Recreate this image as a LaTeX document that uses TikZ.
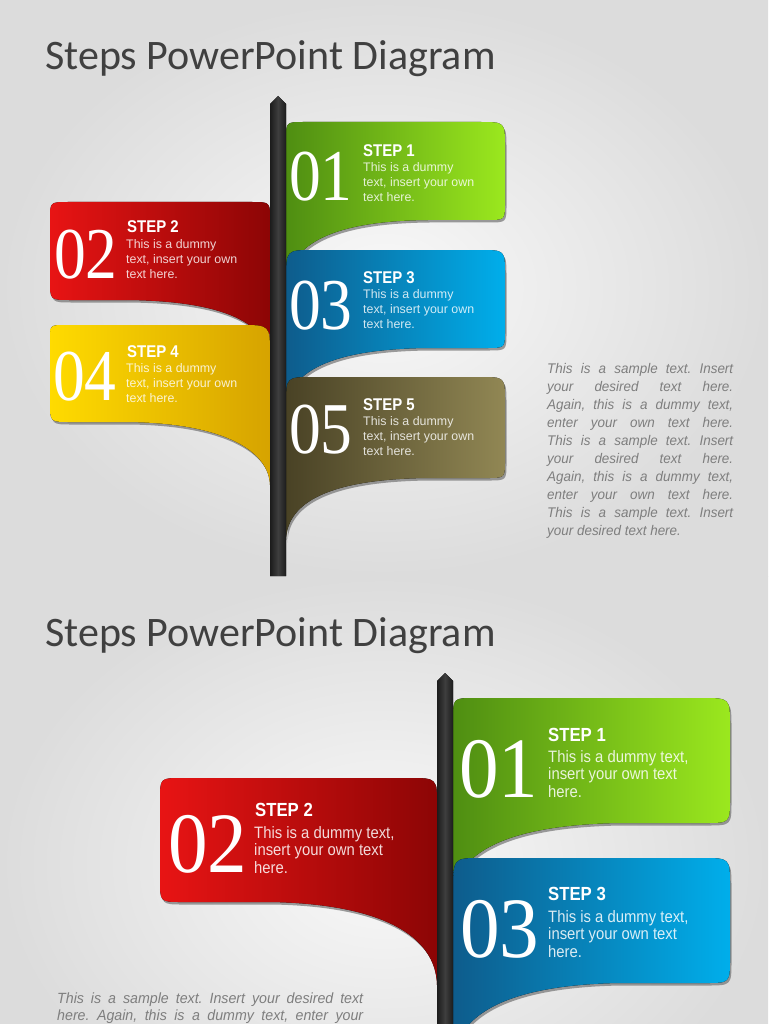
\documentclass[tikz,border=0pt]{standalone}
\usepackage{fontspec}
\setmainfont{Liberation Sans}
\newfontfamily\titlefont{Carlito}
\newfontfamily\numAfont[FakeStretch=0.87]{Liberation Serif}
\newfontfamily\numBfont[FakeStretch=0.92]{Liberation Serif}
\newfontfamily\stepfont[FakeStretch=0.88]{Liberation Sans}
\newfontfamily\bodyAfont{Liberation Sans}
\newfontfamily\bodyBfont[FakeStretch=0.9]{Liberation Sans}
\newfontfamily\samplefont[FakeStretch=0.96]{Liberation Sans}
\frenchspacing
\definecolor{bgIn}{HTML}{F9F9F9}
\definecolor{bgOut}{HTML}{DCDCDC}
\definecolor{gL}{HTML}{4F8E12}
\definecolor{gR}{HTML}{9BE81E}
\definecolor{bL}{HTML}{0E5C8C}
\definecolor{bR}{HTML}{00AEEB}
\definecolor{oL}{HTML}{494225}
\definecolor{oR}{HTML}{918754}
\definecolor{rL}{HTML}{E81414}
\definecolor{rR}{HTML}{8C0505}
\definecolor{yL}{HTML}{FFDB00}
\definecolor{yR}{HTML}{D6A300}
\definecolor{poleD}{HTML}{1C1C1C}
\definecolor{poleM}{HTML}{3E3E3E}
\definecolor{titlegray}{HTML}{404040}
\definecolor{samplegray}{HTML}{7E7E7E}
\tikzset{
  flagshadow/.style={fill=black!55, fill opacity=0.7, shift={(1.5,2.5)}},
  polesty/.style={left color=poleD, right color=poleD, middle color=poleM},
  greenflag/.style={left color=gL, right color=gR},
  blueflag/.style={left color=bL, right color=bR},
  oliveflag/.style={left color=oL, right color=oR},
  redflag/.style={left color=rL, right color=rR},
  yellowflag/.style={left color=yL, right color=yR},
  titlesty/.style={anchor=base west, inner sep=0, text=titlegray, font=\titlefont\fontsize{42}{42}\selectfont},
  numA/.style={anchor=base west, inner sep=0, text=white, font=\numAfont\fontsize{73}{73}\selectfont},
  numB/.style={anchor=base west, inner sep=0, text=white, font=\numBfont\fontsize{86}{86}\selectfont},
  stepA/.style={anchor=base west, inner sep=0, text=white, font=\stepfont\bfseries\fontsize{17}{17}\selectfont},
  stepB/.style={anchor=base west, inner sep=0, text=white, font=\stepfont\bfseries\fontsize{19}{19}\selectfont},
  bodyA/.style={anchor=base west, inner sep=0, text=white, text opacity=0.82, font=\bodyAfont\fontsize{12.4}{15}\selectfont},
  bodyB/.style={anchor=base west, inner sep=0, text=white, text opacity=0.85, font=\bodyBfont\fontsize{16.5}{17.5}\selectfont},
  sampleA/.style={anchor=base west, inner sep=0, text=samplegray, font=\samplefont\itshape\fontsize{14}{18}\selectfont},
  sampleB/.style={anchor=base west, inner sep=0, text=samplegray, font=\samplefont\itshape\fontsize{14.8}{17}\selectfont},
  % slide 1 flag outlines
  pGreenA/.style={insert path={(286,290) -- (286,140) .. controls (286,122) .. (304,122) -- (480,122) .. controls (505,122) .. (505,147) -- (505,202) .. controls (505,220) .. (487,220) -- (428,220) .. controls (330,221) and (287,245) .. (286,290) -- cycle}},
  pBlueA/.style={insert path={(286,412) -- (286,280) .. controls (286,250) .. (314,250) -- (480,250) .. controls (505,250) .. (505,275) -- (505,330) .. controls (505,348) .. (487,348) -- (428,348) .. controls (330,349) and (287,372) .. (286,412) -- cycle}},
  pOliveA/.style={insert path={(286,540) -- (286,405) .. controls (286,377) .. (314,377) -- (480,377) .. controls (505,377) .. (505,402) -- (505,460) .. controls (505,478) .. (487,478) -- (428,478) .. controls (330,479) and (287,502) .. (286,540) -- cycle}},
  pRedA/.style={insert path={(270,362) -- (270,220) .. controls (270,202) .. (252,202) -- (68,202) .. controls (50,202) .. (50,220) -- (50,280) .. controls (50,300) .. (70,300) -- (127,300) .. controls (226,301) and (269,324) .. (270,362) -- cycle}},
  pYellowA/.style={insert path={(270,485) -- (270,355) .. controls (270,325) .. (240,325) -- (65,325) .. controls (50,325) .. (50,340) -- (50,402) .. controls (50,422) .. (70,422) -- (127,422) .. controls (226,423) and (269,452) .. (270,485) -- cycle}},
  % slide 2 flag outlines
  pGreenB/.style={insert path={(453,900) -- (453,720) .. controls (453,698) .. (475,698) -- (702,698) .. controls (730,698) .. (730,726) -- (730,798) .. controls (730,823) .. (705,823) -- (619,823) .. controls (508,825) and (454,852) .. (453,900) -- cycle}},
  pBlueB/.style={insert path={(453,1065) -- (453,893) .. controls (453,858) .. (481,858) -- (702,858) .. controls (730,858) .. (730,886) -- (730,958) .. controls (730,983) .. (705,983) -- (619,983) .. controls (508,985) and (454,1014) .. (453,1065) -- cycle}},
  pRedB/.style={insert path={(437,985) -- (437,806) .. controls (437,778) .. (409,778) -- (182,778) .. controls (160,778) .. (160,800) -- (160,880) .. controls (160,902) .. (182,902) -- (271,902) .. controls (382,904) and (436,936) .. (437,985) -- cycle}},
}
\begin{document}
\begin{tikzpicture}[x=1pt,y=-1pt]
\useasboundingbox (0,0) rectangle (768,1024);
\clip (0,0) rectangle (768,1024);
% backgrounds
\shade[inner color=bgIn, outer color=bgOut] (0,0) rectangle (768,576);
\shade[inner color=bgIn, outer color=bgOut] (0,576) rectangle (768,1152);

% ---------------- slide 1 ----------------
\node[titlesty] (title1) at (45,70) {Steps PowerPoint Diagram};

\fill[flagshadow, pGreenA];
\fill[greenflag, pGreenA];
\fill[flagshadow, pBlueA];
\fill[blueflag, pBlueA];
\fill[flagshadow, pOliveA];
\fill[oliveflag, pOliveA];
\fill[flagshadow, pRedA];
\fill[redflag, pRedA];
\fill[flagshadow, pYellowA];
\fill[yellowflag, pYellowA];

\fill[polesty] (270,576) -- (270,104) -- (278,96) -- (286,104) -- (286,576) -- cycle;

\node[numA] (n01a) at (289,201) {01};
\node[stepA] (s1a) at (363,157) {STEP 1};
\node[bodyA] (t1a) at (363,172) {\parbox[t]{140pt}{This is a dummy\\text, insert your own\\text here.}};

\node[numA] (n02a) at (54,278) {02};
\node[stepA] (s2a) at (127,233) {STEP 2};
\node[bodyA] (t2a) at (126,248) {\parbox[t]{140pt}{This is a dummy\\text, insert your own\\text here.}};

\node[numA] (n03a) at (289,329) {03};
\node[stepA] (s3a) at (363,283) {STEP 3};
\node[bodyA] (t3a) at (363,298) {\parbox[t]{140pt}{This is a dummy\\text, insert your own\\text here.}};

\node[numA] (n04a) at (53,400) {04};
\node[stepA] (s4a) at (127,357) {STEP 4};
\node[bodyA] (t4a) at (126,372) {\parbox[t]{140pt}{This is a dummy\\text, insert your own\\text here.}};

\node[numA] (n05a) at (289,453) {05};
\node[stepA] (s5a) at (363,410) {STEP 5};
\node[bodyA] (t5a) at (363,425) {\parbox[t]{140pt}{This is a dummy\\text, insert your own\\text here.}};

\node[sampleA] (sample1) at (547,373) {\parbox[t]{186pt}{%
\makebox[186pt][s]{This is a sample text. Insert}\\
\makebox[186pt][s]{your desired text here.}\\
\makebox[186pt][s]{Again, this is a dummy text,}\\
\makebox[186pt][s]{enter your own text here.}\\
\makebox[186pt][s]{This is a sample text. Insert}\\
\makebox[186pt][s]{your desired text here.}\\
\makebox[186pt][s]{Again, this is a dummy text,}\\
\makebox[186pt][s]{enter your own text here.}\\
\makebox[186pt][s]{This is a sample text. Insert}\\
your desired text here.}};

% ---------------- slide 2 ----------------
\node[titlesty] (title2) at (45,646) {Steps PowerPoint Diagram};

\fill[flagshadow, pGreenB];
\fill[greenflag, pGreenB];
\fill[flagshadow, pBlueB];
\fill[blueflag, pBlueB];
\fill[flagshadow, pRedB];
\fill[redflag, pRedB];

\fill[polesty] (437,1030) -- (437,681) -- (445,673) -- (453,681) -- (453,1030) -- cycle;

\node[numB] (n01b) at (459,797) {01};
\node[stepB] (s1b) at (548,741) {STEP 1};
\node[bodyB] (t1b) at (548,762) {\parbox[t]{170pt}{This is a dummy text,\\insert your own text\\here.}};

\node[numB] (n02b) at (168,872) {02};
\node[stepB] (s2b) at (255,816) {STEP 2};
\node[bodyB] (t2b) at (254,838) {\parbox[t]{170pt}{This is a dummy text,\\insert your own text\\here.}};

\node[numB] (n03b) at (460,957) {03};
\node[stepB] (s3b) at (548,900) {STEP 3};
\node[bodyB] (t3b) at (548,922) {\parbox[t]{170pt}{This is a dummy text,\\insert your own text\\here.}};

\node[sampleB] (sample2) at (57,1003) {\parbox[t]{306pt}{%
\makebox[306pt][s]{This is a sample text. Insert your desired text}\\
\makebox[306pt][s]{here. Again, this is a dummy text, enter your}}};
\end{tikzpicture}
\end{document}
